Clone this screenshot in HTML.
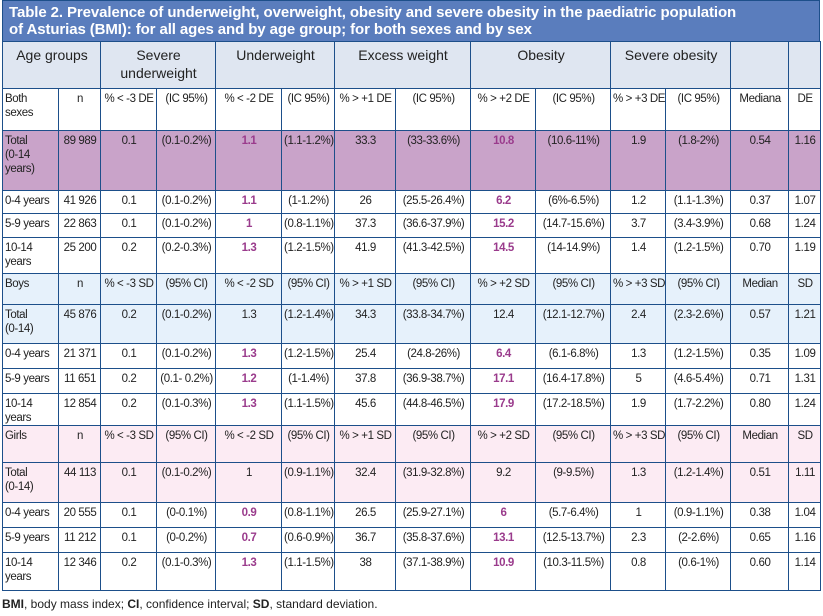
<!DOCTYPE html>
<html><head><meta charset="utf-8">
<style>
html,body{margin:0;padding:0;background:#fff;width:823px;height:616px;overflow:hidden;font-family:"Liberation Sans",sans-serif;}
#title{position:absolute;left:2px;top:0;width:818px;height:41px;background:#5a7dbd;color:#fff;font-weight:bold;font-size:15px;line-height:17px;padding:3px 0 0 6px;box-sizing:border-box;border:1px solid #1d4f8a;border-bottom:none;white-space:nowrap;letter-spacing:-0.1px;}
table{position:absolute;left:2px;top:41px;border-collapse:collapse;table-layout:fixed;width:818px;font-size:11.5px;letter-spacing:-0.4px;color:#222;}
td{border:1px solid #1d4f8a;vertical-align:top;padding:3px 1px 0 2px;text-align:center;line-height:14px;overflow:hidden;white-space:nowrap;}
td.l{text-align:left;}
tr.h td{background:#dfe6f1;font-size:14px;letter-spacing:0;line-height:18px;padding-top:4px;}
tr.pk td{background:#c9a3c9;}
tr.bl td{background:#e6f1fb;}
tr.gl td{background:#fcebf3;}
b{color:#9a3b8c;}
#foot{position:absolute;left:2px;top:597px;font-size:12px;color:#222;}
</style></head><body>
<div id="title">Table 2. Prevalence of underweight, overweight, obesity and severe obesity in the paediatric population<br>of Asturias (BMI): for all ages and by age group; for both sexes and by sex</div>
<table>
<colgroup><col style="width:56px"><col style="width:42px"><col style="width:56px"><col style="width:59px"><col style="width:66px"><col style="width:53px"><col style="width:61px"><col style="width:75px"><col style="width:65px"><col style="width:75px"><col style="width:55px"><col style="width:65px"><col style="width:58px"><col style="width:32px"></colgroup>
<tr class="h" style="height:47px"><td colspan="2">Age groups</td><td colspan="2">Severe<br>underweight</td><td colspan="2">Underweight</td><td colspan="2">Excess weight</td><td colspan="2">Obesity</td><td colspan="2">Severe obesity</td><td></td><td></td></tr>
<tr style="height:42px"><td class="l">Both<br>sexes</td><td>n</td><td>% &lt; -3 DE</td><td>(IC 95%)</td><td>% &lt; -2 DE</td><td>(IC 95%)</td><td>% &gt; +1 DE</td><td>(IC 95%)</td><td>% &gt; +2 DE</td><td>(IC 95%)</td><td>% &gt; +3 DE</td><td>(IC 95%)</td><td>Mediana</td><td>DE</td></tr>
<tr class="pk" style="height:60px"><td class="l">Total<br>(0-14<br>years)</td><td>89 989</td><td>0.1</td><td>(0.1-0.2%)</td><td><b>1.1</b></td><td>(1.1-1.2%)</td><td>33.3</td><td>(33-33.6%)</td><td><b>10.8</b></td><td>(10.6-11%)</td><td>1.9</td><td>(1.8-2%)</td><td>0.54</td><td>1.16</td></tr>
<tr style="height:23px"><td class="l">0-4 years</td><td>41 926</td><td>0.1</td><td>(0.1-0.2%)</td><td><b>1.1</b></td><td>(1-1.2%)</td><td>26</td><td>(25.5-26.4%)</td><td><b>6.2</b></td><td>(6%-6.5%)</td><td>1.2</td><td>(1.1-1.3%)</td><td>0.37</td><td>1.07</td></tr>
<tr style="height:24px"><td class="l">5-9 years</td><td>22 863</td><td>0.1</td><td>(0.1-0.2%)</td><td><b>1</b></td><td>(0.8-1.1%)</td><td>37.3</td><td>(36.6-37.9%)</td><td><b>15.2</b></td><td>(14.7-15.6%)</td><td>3.7</td><td>(3.4-3.9%)</td><td>0.68</td><td>1.24</td></tr>
<tr style="height:36px"><td class="l">10-14<br>years</td><td>25 200</td><td>0.2</td><td>(0.2-0.3%)</td><td><b>1.3</b></td><td>(1.2-1.5%)</td><td>41.9</td><td>(41.3-42.5%)</td><td><b>14.5</b></td><td>(14-14.9%)</td><td>1.4</td><td>(1.2-1.5%)</td><td>0.70</td><td>1.19</td></tr>
<tr class="bl" style="height:31px"><td class="l">Boys</td><td>n</td><td>% &lt; -3 SD</td><td>(95% CI)</td><td>% &lt; -2 SD</td><td>(95% CI)</td><td>% &gt; +1 SD</td><td>(95% CI)</td><td>% &gt; +2 SD</td><td>(95% CI)</td><td>% &gt; +3 SD</td><td>(95% CI)</td><td>Median</td><td>SD</td></tr>
<tr class="bl" style="height:39px"><td class="l">Total<br>(0-14)</td><td>45 876</td><td>0.2</td><td>(0.1-0.2%)</td><td>1.3</td><td>(1.2-1.4%)</td><td>34.3</td><td>(33.8-34.7%)</td><td>12.4</td><td>(12.1-12.7%)</td><td>2.4</td><td>(2.3-2.6%)</td><td>0.57</td><td>1.21</td></tr>
<tr style="height:25px"><td class="l">0-4 years</td><td>21 371</td><td>0.1</td><td>(0.1-0.2%)</td><td><b>1.3</b></td><td>(1.2-1.5%)</td><td>25.4</td><td>(24.8-26%)</td><td><b>6.4</b></td><td>(6.1-6.8%)</td><td>1.3</td><td>(1.2-1.5%)</td><td>0.35</td><td>1.09</td></tr>
<tr style="height:25px"><td class="l">5-9 years</td><td>11 651</td><td>0.2</td><td>(0.1- 0.2%)</td><td><b>1.2</b></td><td>(1-1.4%)</td><td>37.8</td><td>(36.9-38.7%)</td><td><b>17.1</b></td><td>(16.4-17.8%)</td><td>5</td><td>(4.6-5.4%)</td><td>0.71</td><td>1.31</td></tr>
<tr style="height:32px"><td class="l">10-14<br>years</td><td>12 854</td><td>0.2</td><td>(0.1-0.3%)</td><td><b>1.3</b></td><td>(1.1-1.5%)</td><td>45.6</td><td>(44.8-46.5%)</td><td><b>17.9</b></td><td>(17.2-18.5%)</td><td>1.9</td><td>(1.7-2.2%)</td><td>0.80</td><td>1.24</td></tr>
<tr class="gl" style="height:37px"><td class="l">Girls</td><td>n</td><td>% &lt; -3 SD</td><td>(95% CI)</td><td>% &lt; -2 SD</td><td>(95% CI)</td><td>% &gt; +1 SD</td><td>(95% CI)</td><td>% &gt; +2 SD</td><td>(95% CI)</td><td>% &gt; +3 SD</td><td>(95% CI)</td><td>Median</td><td>SD</td></tr>
<tr class="gl" style="height:40px"><td class="l">Total<br>(0-14)</td><td>44 113</td><td>0.1</td><td>(0.1-0.2%)</td><td>1</td><td>(0.9-1.1%)</td><td>32.4</td><td>(31.9-32.8%)</td><td>9.2</td><td>(9-9.5%)</td><td>1.3</td><td>(1.2-1.4%)</td><td>0.51</td><td>1.11</td></tr>
<tr style="height:25px"><td class="l">0-4 years</td><td>20 555</td><td>0.1</td><td>(0-0.1%)</td><td><b>0.9</b></td><td>(0.8-1.1%)</td><td>26.5</td><td>(25.9-27.1%)</td><td><b>6</b></td><td>(5.7-6.4%)</td><td>1</td><td>(0.9-1.1%)</td><td>0.38</td><td>1.04</td></tr>
<tr style="height:25px"><td class="l">5-9 years</td><td>11 212</td><td>0.1</td><td>(0-0.2%)</td><td><b>0.7</b></td><td>(0.6-0.9%)</td><td>36.7</td><td>(35.8-37.6%)</td><td><b>13.1</b></td><td>(12.5-13.7%)</td><td>2.3</td><td>(2-2.6%)</td><td>0.65</td><td>1.16</td></tr>
<tr style="height:38px"><td class="l">10-14<br>years</td><td>12 346</td><td>0.2</td><td>(0.1-0.3%)</td><td><b>1.3</b></td><td>(1.1-1.5%)</td><td>38</td><td>(37.1-38.9%)</td><td><b>10.9</b></td><td>(10.3-11.5%)</td><td>0.8</td><td>(0.6-1%)</td><td>0.60</td><td>1.14</td></tr>
</table>
<div id="foot"><strong>BMI</strong>, body mass index; <strong>CI</strong>, confidence interval; <strong>SD</strong>, standard deviation.</div>
</body></html>
